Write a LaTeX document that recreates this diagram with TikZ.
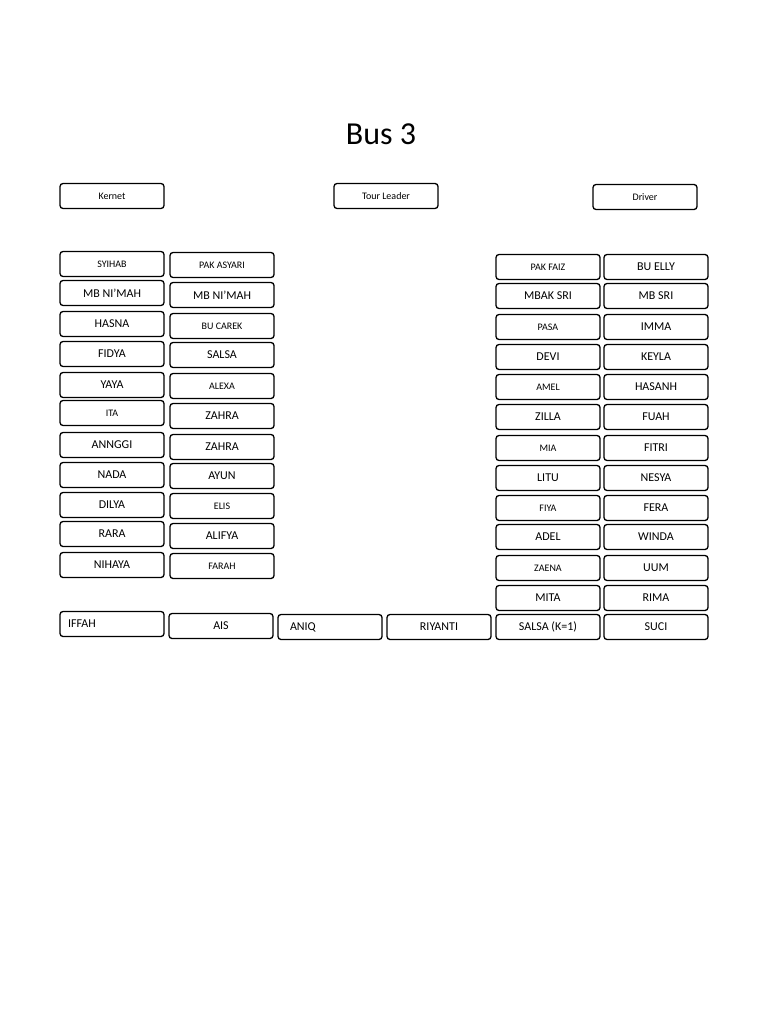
\documentclass[tikz,border=0pt]{standalone}
\usepackage{fontspec}
\setmainfont{Carlito}
\tikzset{%
  seat/.style={rectangle, draw, line width=1.3pt, rounded corners=3pt, minimum width=104pt, minimum height=25pt, inner sep=0pt, font=\fontsize{12}{12}\selectfont},
  small/.style={font=\fontsize{10}{10}\selectfont}}

\begin{document}
\begin{tikzpicture}[x=1pt, y=-1pt]
    \useasboundingbox (0, 0) rectangle (768, 1024);

    \node [font=\fontsize{32}{32}\selectfont] (title) at (381, 134) {Bus 3};

    \node [seat, small] (kernet) at (112, 196) {Kernet};
    \node [seat, small] (tl) at (386, 196) {Tour Leader};
    \node [seat, small] (driver) at (645, 197) {Driver};

    % left side
    \foreach \y/\t/\s [count=\i] in {264/SYIHAB/small, 293/MB NI'MAH/, 324/HASNA/, 354/FIDYA/, 385/YAYA/, 413/ITA/small, 445/ANNGGI/, 475/NADA/, 505/DILYA/, 534/RARA/, 565/NIHAYA/}
      \node [seat, \s] (l\i) at (112, \y) {\t};
    \foreach \y/\t/\s [count=\i] in {265/PAK ASYARI/small, 295/MB NI'MAH/, 326/BU CAREK/small, 355/SALSA/, 386/ALEXA/small, 416/ZAHRA/, 447/ZAHRA/, 476/AYUN/, 506/ELIS/small, 536/ALIFYA/, 566/FARAH/small}
      \node [seat, \s] (m\i) at (222, \y) {\t};

    % right side
    \foreach \y/\t/\s [count=\i] in {267/PAK FAIZ/small, 296/MBAK SRI/, 327/PASA/small, 357/DEVI/, 387/AMEL/small, 417/ZILLA/, 448/MIA/small, 478/LITU/, 508/FIYA/small, 537/ADEL/, 568/ZAENA/small, 598/MITA/}
      \node [seat, \s] (r\i) at (548, \y) {\t};
    \foreach \y/\t [count=\i] in {267/BU ELLY, 296/MB SRI, 327/IMMA, 357/KEYLA, 387/HASANH, 417/FUAH, 448/FITRI, 478/NESYA, 508/FERA, 537/WINDA, 568/UUM, 598/RIMA}
      \node [seat] (s\i) at (656, \y) {\t};

    % back row
    \node [seat, text width=88pt, align=left] (iffah) at (112, 624) {IFFAH};
    \node [seat] (ais) at (221, 626) {AIS};
    \node [seat, text width=80pt, align=left] (aniq) at (330, 627) {ANIQ};
    \node [seat] (riyanti) at (439, 627) {RIYANTI};
    \node [seat] (salsak) at (548, 627) {SALSA (K=1)};
    \node [seat] (suci) at (656, 627) {SUCI};
\end{tikzpicture}
\end{document}
